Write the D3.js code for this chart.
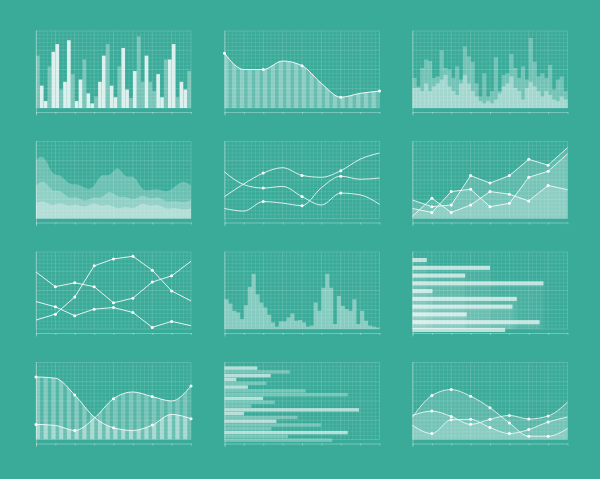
<!DOCTYPE html>
<html><head><meta charset="utf-8">
<script src="https://cdn.jsdelivr.net/npm/d3@7"></script>
<style>html,body{margin:0;padding:0;background:#3aab99;} svg{display:block}</style>
</head><body>
<svg id="c" width="600" height="479"></svg>
<script>
// ---------- DATA ----------
// Panel 1: grouped vertical bars (40 slots)
const p1Tone = ["f","b","b","f","b","b","f","b","b","f","b","b","f","b","b","f","b","b","f","b","b","f","b","b","f","b","f","f","b","f","f","b","b","f","b","b","f","b","b","f"];
const p1Values = [68,29,9,54,73,83,24,34,88,44,9,37,63,19,6,15,34,68,83,29,14,54,78,24,13,48,93,34,68,34,22,44,14,63,63,83,14,34,24,48];
// Panel 2: striped area curve
const p2Values = [71,50,50,61,55,32,14,19,22];
// Panel 3: stepped layers
const p3Back = [39,28,52,63,61,39,41,75,52,50,39,54,37,80,67,60,32,15,45,15,22,66,22,43,45,70,52,39,54,37,91,60,41,45,39,56,24,37,41,22];
const p3Front = [26,26,22,32,22,28,32,37,43,28,22,17,32,43,32,22,15,9,6,9,6,11,19,28,32,41,26,22,11,26,34,28,22,15,22,17,11,9,15,11];
// Panel 4: overlapping smooth areas
const p4Top = [76,85,54,59,43,46,39,37,61,52,72,50,59,35,37,39,33,41,50,43];
const p4Mid = [43,52,33,39,24,30,20,30,24,39,26,30,22,33,24,30,20,24,20,24];
const p4Low = [20,24,15,22,15,20,13,22,15,20,11,17,11,22,15,20,11,15,11,13];
// Panel 5: three smooth lines
const p5A = [28.5,45,59,66,56,53.5,62,77,85];
const p5B = [60.5,44,39.5,41.7,28.5,17.5,33,30.7,18.4];
const p5C = [13,9.6,22,20,16.7,40,55,51,52.6];
// Panel 6: three polyline areas
const p6A = [24,15.4,17.5,55.7,46,55.7,76.8,69.3,92];
const p6B = [13,7.9,35,38,15.4,19.7,53.5,61.4,84];
const p6C = [3,26.3,7.9,17.5,35,31.6,22.8,43,37.3];
// Panel 7: three polylines
const p7A = [74,55,60,55,34,40,61,69,88];
const p7B = [11.6,19.3,41.6,82,91,94.4,76.4,49.4,36.5];
const p7C = [35.6,28.8,17.2,25.8,27.9,21.5,2.1,9.9,4.3];
// Panel 8: stepped histogram
const p8Values = [38.6,33,23.6,21.5,12.9,30.9,54.5,71.7,45,34.3,27.9,18.5,8.6,3,9.9,9.9,15,20.2,10.7,11.6,8.6,3,4.3,34.3,23.6,53.6,71.7,53.6,6.4,42.9,30,25.8,23.6,38.6,6.4,23.6,10.7,4.3,3,2];
// Panel 9: horizontal bars
const p9Values = [9.2,50,34,84.5,12.9,67.3,64.5,35,82,59.8];
// Panel 10: two striped smooth areas
const p10A = [81.3,79.6,57.8,29.1,15.2,11.7,18.7,32.6,27];
const p10B = [19.6,18.3,11.7,27.4,53,61.7,55.7,50,69.6];
// Panel 11: horizontal bars (20 rows)
const p11Tone = ["b","f","b","b","f","b","f","f","b","f","f","b","b","f","b","f","f","b","f","f"];
const p11Values = [21.2,42.1,29.8,7.6,27,15.1,52.3,79.5,24.8,32.4,17.3,86.8,12.5,47.1,33.5,62.2,30.2,79.5,41,69.5];
// Panel 12: smooth areas with dots
const p12A = [29.2,57,64.8,56.2,41.2,21.5,4.3,4.3,14.2];
const p12B = [31.3,36.9,30,19.7,26.2,31.3,26.6,30.5,48.5];
const p12C = [18.5,7.7,25.8,26.2,15.5,7.7,12.9,22.7,29.2];

// ---------- LAYOUT ----------
const W=600,H=479;
const svg=d3.select("#c");
svg.append("rect").attr("width",W).attr("height",H).attr("fill","#3aab99");
const defs=svg.append("defs");
const colX=[36,224.5,412.5], rowY=[31,141.5,252,362.5], PW=155, PH=77;
const NX=40, NY=20;
const X9=d3.range(9).map(i=>i/8);

function mkPanel(c,r){
  const x0=colX[c], y0=rowY[r];
  const g=svg.append("g");
  const x=d3.scaleLinear().domain([0,1]).range([x0,x0+PW]);
  const y=d3.scaleLinear().domain([0,100]).range([y0+PH,y0]);
  const gx=d3.scaleLinear().domain([0,NX]).range([x0,x0+PW]);
  const gy=d3.scaleLinear().domain([0,NY]).range([y0+PH,y0]);
  const grid=g.append("g");
  grid.selectAll(".gv").data(d3.range(NX+1)).join("line").attr("class","gv")
    .attr("x1",d=>gx(d)).attr("x2",d=>gx(d)).attr("y1",y0).attr("y2",y0+PH)
    .attr("stroke","#fff").attr("stroke-width",0.5).attr("stroke-opacity",d=>d%5===0?0.32:0.18);
  grid.selectAll(".gh").data(d3.range(NY+1)).join("line").attr("class","gh")
    .attr("y1",d=>gy(d)).attr("y2",d=>gy(d)).attr("x1",x0).attr("x2",x0+PW)
    .attr("stroke","#fff").attr("stroke-width",0.5).attr("stroke-opacity",d=>d%5===0?0.32:0.18);
  g.append("g").attr("transform",`translate(0,${y0+PH+4})`)
    .call(d3.axisBottom(x).tickValues(d3.range(0,1.0001,0.125)).tickSize(2).tickSizeOuter(0).tickFormat(""))
    .call(a=>a.selectAll("path,line").attr("stroke","#fff").attr("stroke-opacity",0.45).attr("stroke-width",0.7));
  g.append("g").attr("transform",`translate(${x0},0)`)
    .call(d3.axisLeft(d3.scaleLinear().range([y0+PH+7,y0-1])).tickValues([]).tickSizeOuter(0))
    .call(a=>a.selectAll("path,line").attr("stroke","#fff").attr("stroke-opacity",0.45).attr("stroke-width",0.7));
  const marks=g.append("g");
  const band=d3.scaleBand().domain(d3.range(NX)).range([x0,x0+PW]);
  return {g:marks,x,y,x0,y0,band};
}
function dots(p,vals,idx){
  p.g.append("g").selectAll("circle").data(idx).join("circle")
    .attr("cx",i=>p.x(X9[i])).attr("cy",i=>p.y(vals[i])).attr("r",1.5).attr("fill","#fff");
}
function line(p,vals,curve,op){
  p.g.append("path").datum(vals).attr("fill","none").attr("stroke","#fff").attr("stroke-opacity",op||0.8).attr("stroke-width",1)
    .attr("d",d3.line().x((d,i)=>p.x(X9[i])).y(d=>p.y(d)).curve(curve)(vals));
}
function area(p,vals,curve,op){
  p.g.append("path").attr("fill","#fff").attr("fill-opacity",op)
    .attr("d",d3.area().x((d,i)=>p.x(X9[i])).y0(p.y(0)).y1(d=>p.y(d)).curve(curve)(vals));
}
function stripedArea(p,vals,id,baseOp,stripeOp){
  const ar=d3.area().x((d,i)=>p.x(X9[i])).y0(p.y(0)).y1(d=>p.y(d)).curve(d3.curveMonotoneX);
  defs.append("clipPath").attr("id",id).append("path").attr("d",ar(vals));
  p.g.append("path").attr("d",ar(vals)).attr("fill","#fff").attr("fill-opacity",baseOp);
  p.g.append("g").attr("clip-path",`url(#${id})`).selectAll("rect").data(d3.range(NX).filter(i=>i%2===0)).join("rect")
    .attr("x",i=>p.band(i)).attr("width",p.band.bandwidth()).attr("y",p.y(100)).attr("height",p.y(0)-p.y(100))
    .attr("fill","#fff").attr("fill-opacity",stripeOp);
}

// Panel 1
{ const p=mkPanel(0,0); const b=p.band.copy().paddingInner(0.06);
  p.g.selectAll("rect").data(p1Values).join("rect")
   .attr("x",(d,i)=>b(i)).attr("width",b.bandwidth()).attr("y",d=>p.y(d)).attr("height",d=>p.y(0)-p.y(d))
   .attr("fill","#fff").attr("fill-opacity",(d,i)=>p1Tone[i]==="b"?0.82:0.32); }
// Panel 2
{ const p=mkPanel(1,0); stripedArea(p,p2Values,"cp2",0.22,0.25);
  line(p,p2Values,d3.curveMonotoneX,0.9); dots(p,p2Values,[0,2,4,6,8]); }
// Panel 3
{ const p=mkPanel(2,0);
  [[p3Back,0.28],[p3Front,0.35]].forEach(([vals,op])=>{
    p.g.append("g").selectAll("rect").data(vals).join("rect")
     .attr("x",(d,i)=>p.band(i)).attr("width",p.band.bandwidth()+0.2).attr("y",d=>p.y(d)).attr("height",d=>p.y(0)-p.y(d))
     .attr("fill","#fff").attr("fill-opacity",op); }); }
// Panel 4
{ const p=mkPanel(0,1); const X20=d3.range(20).map(i=>i/19);
  [[p4Top,0.25],[p4Mid,0.25],[p4Low,0.3]].forEach(([vals,op])=>{
    p.g.append("path").attr("fill","#fff").attr("fill-opacity",op)
     .attr("d",d3.area().x((d,i)=>p.x(X20[i])).y0(p.y(0)).y1(d=>p.y(d)).curve(d3.curveBasis)(vals)); }); }
// Panel 5
{ const p=mkPanel(1,1);
  [p5A,p5B,p5C].forEach(v=>{line(p,v,d3.curveMonotoneX,0.8); dots(p,v,[2,4,6]);}); }
// Panel 6
{ const p=mkPanel(2,1);
  [p6A,p6B,p6C].forEach(v=>area(p,v,d3.curveLinear,0.17));
  [p6A,p6B,p6C].forEach(v=>{line(p,v,d3.curveLinear,0.8); dots(p,v,[1,2,3,4,5,6,7]);}); }
// Panel 7
{ const p=mkPanel(0,2);
  [p7A,p7B,p7C].forEach(v=>{line(p,v,d3.curveLinear,0.85); dots(p,v,[1,2,3,4,5,6,7]);}); }
// Panel 8
{ const p=mkPanel(1,2);
  p.g.selectAll("rect").data(p8Values).join("rect")
   .attr("x",(d,i)=>p.band(i)).attr("width",p.band.bandwidth()+0.2).attr("y",d=>p.y(d)).attr("height",d=>p.y(0)-p.y(d))
   .attr("fill","#fff").attr("fill-opacity",0.38); }
// Panel 9
{ const p=mkPanel(2,2);
  const xs=d3.scaleLinear().domain([0,100]).range([p.x0,p.x0+PW]);
  const yb=d3.scaleBand().domain(d3.range(p9Values.length)).range([p.y0+6,p.y0+PH+3]).paddingInner(0.47);
  p.g.append("g").selectAll("rect").data(p9Values).join("rect")
   .attr("x",p.x0).attr("width",d=>xs(d)-p.x0).attr("y",(d,i)=>yb(i)).attr("height",(d,i)=>p.y0+PH-yb(i))
   .attr("fill","#fff").attr("fill-opacity",0.07);
  p.g.append("g").selectAll("rect").data(p9Values).join("rect")
   .attr("x",p.x0).attr("width",d=>xs(d)-p.x0).attr("y",(d,i)=>yb(i)).attr("height",yb.bandwidth())
   .attr("fill","#fff").attr("fill-opacity",0.65); }
// Panel 10
{ const p=mkPanel(0,3);
  stripedArea(p,p10A,"cp10a",0.12,0.28);
  stripedArea(p,p10B,"cp10b",0.14,0.2);
  line(p,p10A,d3.curveMonotoneX,0.85); line(p,p10B,d3.curveMonotoneX,0.85);
  dots(p,p10A,[0,2,4,6,8]); dots(p,p10B,[0,2,4,6,8]); }
// Panel 11
{ const p=mkPanel(1,3);
  const xs=d3.scaleLinear().domain([0,100]).range([p.x0,p.x0+PW]);
  const yb=d3.scaleBand().domain(d3.range(p11Values.length)).range([p.y0+3.9,p.y0+PH+2.4]).paddingInner(0.1);
  p.g.selectAll("rect").data(p11Values).join("rect")
   .attr("x",p.x0).attr("width",d=>xs(d)-p.x0).attr("y",(d,i)=>yb(i)).attr("height",yb.bandwidth())
   .attr("fill","#fff").attr("fill-opacity",(d,i)=>p11Tone[i]==="b"?0.62:0.3); }
// Panel 12
{ const p=mkPanel(2,3);
  [p12A,p12B,p12C].forEach(v=>area(p,v,d3.curveMonotoneX,0.16));
  [p12A,p12B,p12C].forEach(v=>{line(p,v,d3.curveMonotoneX,0.75); dots(p,v,[1,2,3,4,5,6,7]);}); }
</script>
</body></html>
